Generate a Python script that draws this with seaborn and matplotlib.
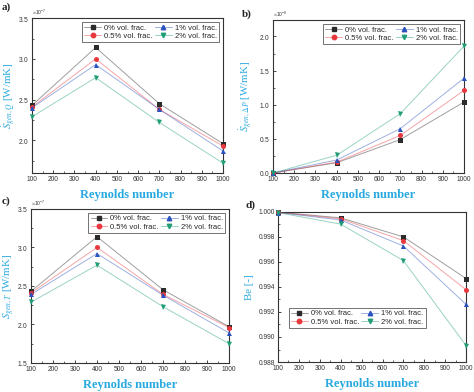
import pandas as pd
import numpy as np
import matplotlib
matplotlib.use('Agg')
import matplotlib.pyplot as plt
import seaborn as sns
from matplotlib.lines import Line2D
from matplotlib.ticker import ScalarFormatter, MultipleLocator, AutoMinorLocator, FormatStrFormatter

# Data
reynolds = [100, 400, 700, 1000]
fractions = ['0% vol. frac.', '0.5% vol. frac.', '1% vol. frac.', '2% vol. frac.']

# a) S_gen,Q  (x1e-7)
sgen_q_0 = [2.43e-7, 3.14e-7, 2.45e-7, 1.96e-7]
sgen_q_05 = [2.41e-7, 3.00e-7, 2.38e-7, 1.93e-7]
sgen_q_1 = [2.40e-7, 2.93e-7, 2.38e-7, 1.87e-7]
sgen_q_2 = [2.29e-7, 2.77e-7, 2.22e-7, 1.72e-7]

# b) S_gen,dP  (x1e-8)
sgen_dp_0 = [0.00e-8, 0.15e-8, 0.49e-8, 1.04e-8]
sgen_dp_05 = [0.00e-8, 0.16e-8, 0.55e-8, 1.21e-8]
sgen_dp_1 = [0.00e-8, 0.19e-8, 0.65e-8, 1.39e-8]
sgen_dp_2 = [0.00e-8, 0.26e-8, 0.87e-8, 1.86e-8]

# c) S_gen,T  (x1e-7)
sgen_t_0 = [2.43e-7, 3.14e-7, 2.45e-7, 1.97e-7]
sgen_t_05 = [2.41e-7, 3.00e-7, 2.39e-7, 1.96e-7]
sgen_t_1 = [2.39e-7, 2.92e-7, 2.38e-7, 1.89e-7]
sgen_t_2 = [2.29e-7, 2.77e-7, 2.23e-7, 1.75e-7]

# d) Bejan number
be_0 = [0.99998, 0.99952, 0.99800, 0.99467]
be_05 = [0.99996, 0.99945, 0.99770, 0.99377]
be_1 = [0.99995, 0.99935, 0.99727, 0.99260]
be_2 = [0.99994, 0.99902, 0.99610, 0.98930]

marker_colors = ['#2b2b2b', '#e8383d', '#2a52be', '#1f9e78']
markers = ['s', 'o', '^', 'v']
label_color = '#29a9e0'


def to_long(series):
    rows = []
    for frac, vals in zip(fractions, series):
        for re, v in zip(reynolds, vals):
            rows.append({'Re': re, 'value': v, 'frac': frac})
    return pd.DataFrame(rows)


sns.set_style('white')
plt.rcParams['font.family'] = ['Liberation Sans', 'DejaVu Sans']
plt.rcParams['mathtext.fontset'] = 'stix'

fig = plt.figure(figsize=(4.74, 3.92), dpi=100)
positions = [
    [0.0675, 0.5587, 0.403, 0.395],
    [0.576, 0.5587, 0.403, 0.390],
    [0.0654, 0.074, 0.418, 0.393],
    [0.5865, 0.0765, 0.397, 0.383],
]
panels = [
    ([sgen_q_0, sgen_q_05, sgen_q_1, sgen_q_2], r'$\dot{S}_{gen,Q}$ [W/mK]', (1.6e-7, 3.5e-7), 0.5e-7, 'upper right', 'a)'),
    ([sgen_dp_0, sgen_dp_05, sgen_dp_1, sgen_dp_2], r'$\dot{S}_{gen,\Delta P}$ [W/mK]', (0, 2.24e-8), 0.5e-8, 'upper right', 'b)'),
    ([sgen_t_0, sgen_t_05, sgen_t_1, sgen_t_2], r'$\dot{S}_{gen,T}$ [W/mK]', (1.5e-7, 3.5e-7), 0.5e-7, 'upper right', 'c)'),
    ([be_0, be_05, be_1, be_2], 'Be [-]', (0.988, 1.000), 0.002, 'lower left', 'd)'),
]
letter_pos = [(0.004, 0.995), (0.511, 0.975), (0.004, 0.5), (0.517, 0.49)]
ylabel_x = [-0.075, -0.094, -0.07, -0.125]

for i, (series, ylabel, ylim, ystep, loc, letter) in enumerate(panels):
    ax = fig.add_axes(positions[i])
    df = to_long(series)
    sns.lineplot(data=df, x='Re', y='value', hue='frac', style='frac',
                 palette=marker_colors, markers=markers, dashes=False,
                 markersize=3.6, markeredgewidth=0, linewidth=0.7,
                 legend=False, ax=ax, clip_on=False)
    handles = []
    for line, c, m, lab in zip(ax.lines, marker_colors, markers, fractions):
        line.set_alpha(None)
        line.set_color(matplotlib.colors.to_rgba(c, 0.45))
        line.set_markerfacecolor(c)
        line.set_markeredgecolor(c)
        line.set_zorder(3)
        handles.append(Line2D([], [], color=matplotlib.colors.to_rgba(c, 0.45), lw=0.7,
                              marker=m, markersize=3.2, markerfacecolor=c,
                              markeredgecolor=c, label=lab))
    ax.set_xlim(100, 1000)
    ax.set_ylim(*ylim)
    ax.xaxis.set_major_locator(MultipleLocator(100))
    ax.xaxis.set_minor_locator(AutoMinorLocator(2))
    ax.yaxis.set_major_locator(MultipleLocator(ystep))
    ax.yaxis.set_minor_locator(AutoMinorLocator(2))
    if i < 3:
        fmt = ScalarFormatter(useMathText=True)
        fmt.set_powerlimits((0, 0))
        ax.yaxis.set_major_formatter(fmt)
        ax.yaxis.get_offset_text().set_fontsize(3.5)
        ax.yaxis.get_offset_text().set_color('#444444')
    else:
        ax.yaxis.set_major_formatter(FormatStrFormatter('%.3f'))
    for s in ax.spines.values():
        s.set_color('#333333')
        s.set_linewidth(0.8)
    ax.tick_params(axis='both', which='major', direction='in', length=2.5, width=0.6,
                   labelsize=4.8, labelcolor='#333333', pad=2.2, left=True, bottom=True)
    ax.tick_params(axis='both', which='minor', direction='in', length=1.3, width=0.5,
                   left=True, bottom=True)
    ax.set_xlabel('Reynolds number', fontsize=9, fontweight='bold', color=label_color,
                  family='Liberation Serif', labelpad=4)
    ax.set_ylabel(ylabel, fontsize=7.8, color=label_color, family='Liberation Serif')
    ax.yaxis.set_label_coords(ylabel_x[i], 0.5)
    leg = ax.legend(handles=handles, ncol=2, loc=loc, fontsize=5.5, frameon=True,
                    fancybox=False, edgecolor='#333333', handlelength=2.2,
                    handletextpad=0.4, columnspacing=0.3, labelspacing=0.15,
                    borderpad=0.3, borderaxespad=0.5 if loc == 'upper right' else 0.9)
    leg.get_frame().set_linewidth(0.6)
    if loc == 'lower left':
        leg.set_bbox_to_anchor((0.02, 0.18), transform=ax.transAxes)
    fig.text(letter_pos[i][0], letter_pos[i][1], letter, fontsize=8, fontweight='bold',
             family='Liberation Serif', va='top', ha='left')

fig.savefig('out.png', dpi=100)
